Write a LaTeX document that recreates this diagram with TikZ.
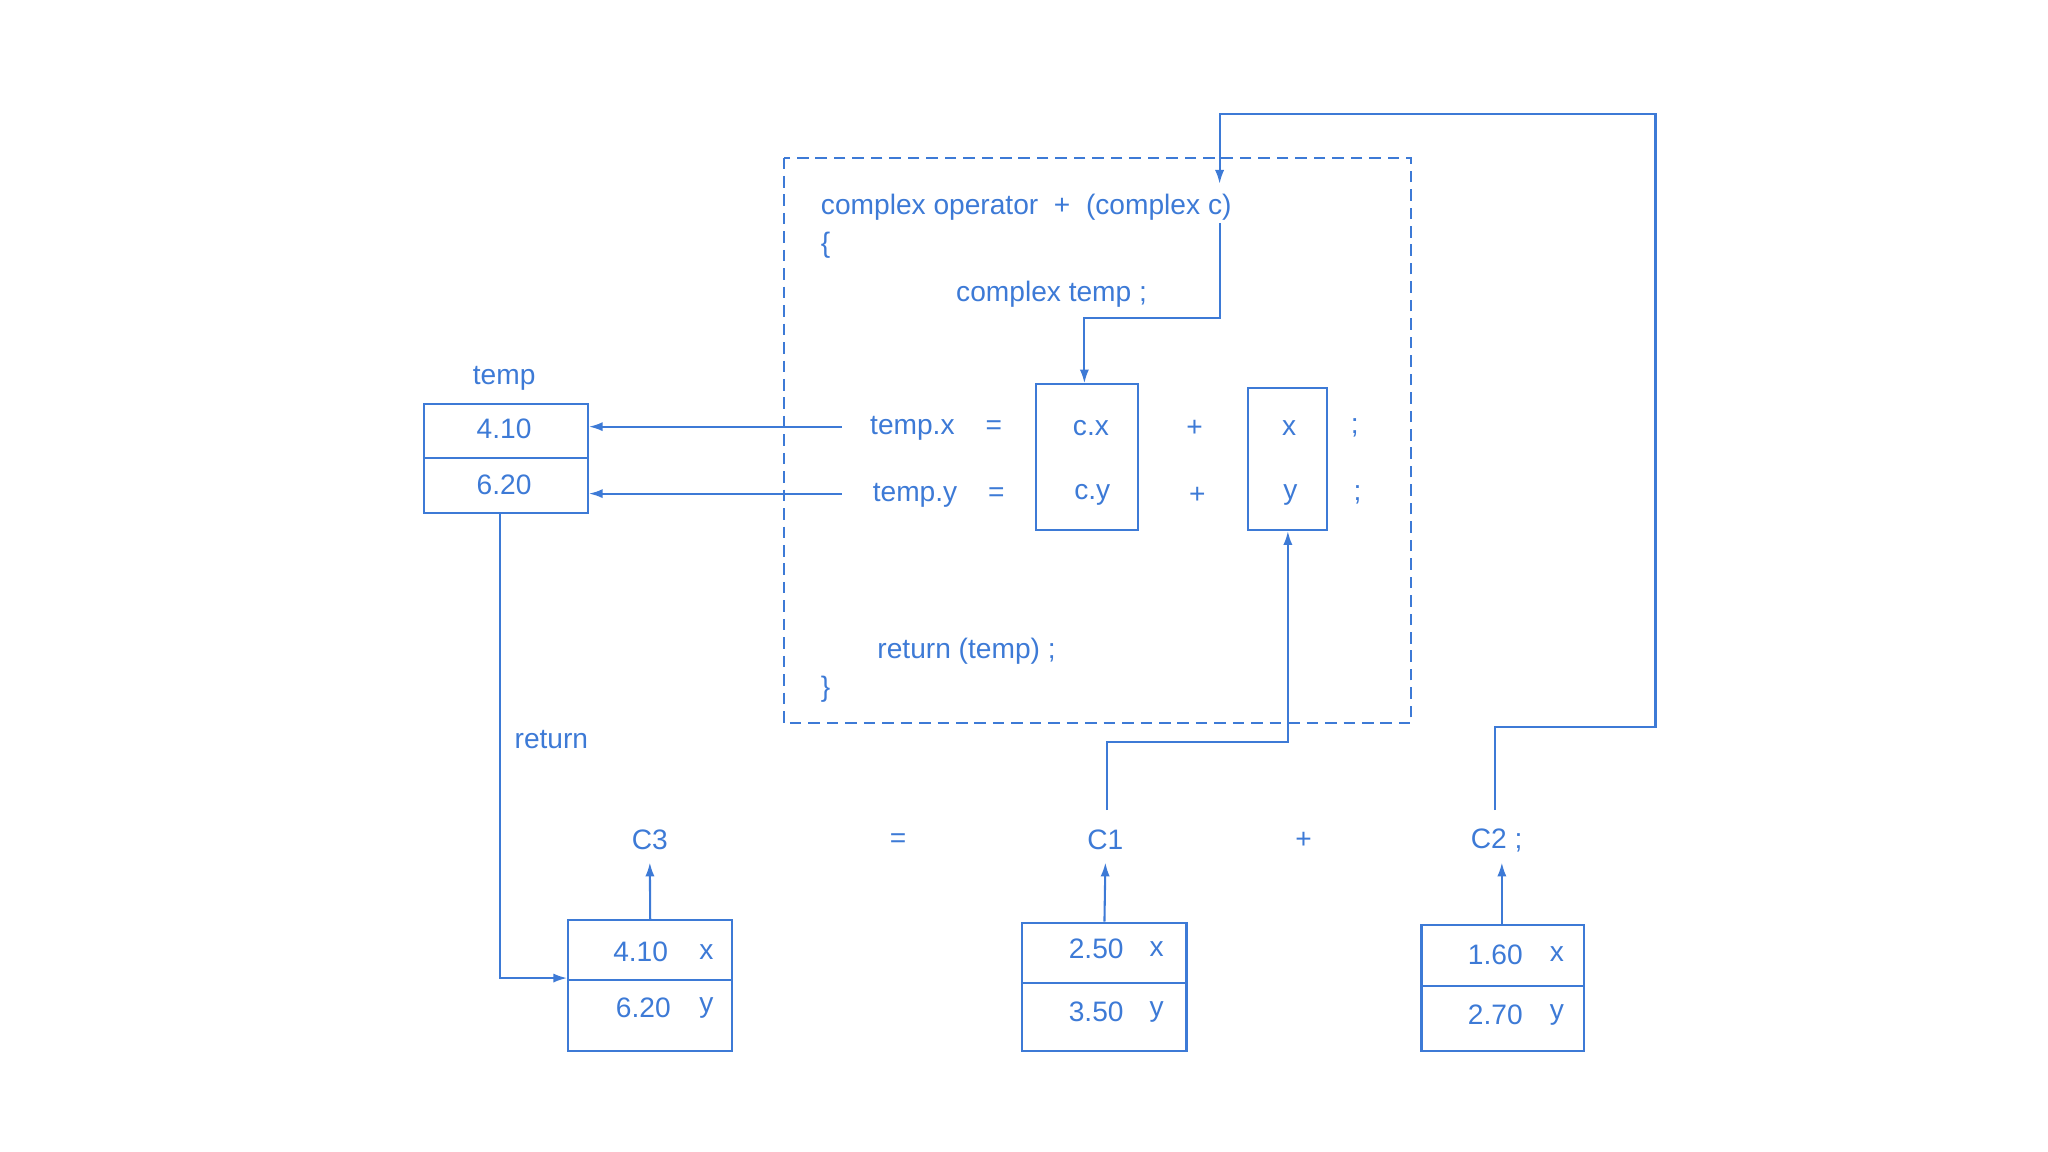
\documentclass[tikz,border=0pt]{standalone}
\usepackage{fontspec}
\setmainfont{Liberation Sans}
\usetikzlibrary{arrows.meta}
\definecolor{bl}{HTML}{3D7AD6}
\begin{document}
\begin{tikzpicture}[x=0.02cm,y=-0.02cm,
  every node/.style={text=bl,font=\fontsize{12.2}{14}\selectfont,inner sep=0pt},
  ln/.style={draw=bl,line width=0.9pt},
  ar/.style={ln,-{Latex[length=6pt,width=4pt]}},
  bx/.style={draw=bl,line width=0.9pt}]
\useasboundingbox (0,0) rectangle (1560,877.5);
% dashed function box
\draw[bl,line width=0.9pt,dash pattern=on 5pt off 3pt] (597,120) rectangle (1075,551);
\node[anchor=west] (sig) at (625,158) {complex operator\ \ +\ \ (complex c)};
\node[anchor=west] (ob) at (625,187) {\{};
\node[anchor=west] (decl) at (728,224) {complex temp ;};
\node[anchor=west] (ret) at (668,496) {return (temp) ;};
\node[anchor=west] (cb) at (625,525) {\}};
% statements
\node (tx) at (695,326) {temp.x};
\node (ty) at (697,377) {temp.y};
\node at (757,326) {=};
\node at (759,377) {=};
\node[bx,anchor=north west,minimum width=1.56cm,minimum height=2.22cm] (cbox) at (788,292) {};
\node (cx) at (831,326) {c.x};
\node (cy) at (832,377) {c.y};
\node at (910,326) {+};
\node at (912,377) {+};
\node[bx,anchor=north west,minimum width=1.2cm,minimum height=2.16cm] (xbox) at (950,295) {};
\node at (982,326) {x};
\node at (983,377) {y};
\node at (1032,326) {;};
\node at (1034,377) {;};
% temp box
\node (templ) at (384,288) {temp};
\node[bx,anchor=north west,minimum width=2.5cm,minimum height=0.82cm] (t1) at (322,307) {};
\node[bx,anchor=north west,minimum width=2.5cm,minimum height=0.84cm] (t2) at (322,348) {};
\node at (384,327) {4.10};
\node at (384,369) {6.20};
\coordinate (tx0) at (641,325);
\coordinate (ty0) at (641,376);
\draw[ar] (tx0) -- (t1.east|-tx0);
\draw[ar] (ty0) -- (t2.east|-ty0);
% bottom expression
\node (C3) at (495,640) {C3};
\node at (684,640) {=};
\node (C1) at (842,640) {C1};
\node at (993,640) {+};
\node (C2) at (1140,640) {C2 ;};
% C3 box
\node[bx,anchor=north west,minimum width=2.5cm,minimum height=0.92cm] (c3a) at (432,700) {};
\node[bx,anchor=north west,minimum width=2.5cm,minimum height=1.08cm] (c3b) at (432,746) {};
\node at (488,725) {4.10}; \node at (538,725) {x};
\node at (490,768) {6.20}; \node at (538,768) {y};
% C1 box
\node[bx,anchor=north west,minimum width=2.5cm,minimum height=0.92cm] (c1a) at (778,702) {};
\node[bx,anchor=north west,minimum width=2.5cm,minimum height=1.04cm] (c1b) at (778,748) {};
\node at (835,723) {2.50}; \node at (881,723) {x};
\node at (835,771) {3.50}; \node at (881,771) {y};
% C2 box
\node[bx,anchor=north west,minimum width=2.48cm,minimum height=0.92cm] (c2a) at (1082,704) {};
\node[bx,anchor=north west,minimum width=2.48cm,minimum height=1.0cm] (c2b) at (1082,750) {};
\node at (1139,727) {1.60}; \node at (1186,727) {x};
\node at (1139,773) {2.70}; \node at (1186,773) {y};
% up arrows
\draw[ar] (c3a.north) -- (495,657);
\draw[ar] (c1a.north) -- (842,657);
\draw[ar] (1144,704) -- (1144,657);
% return
\node (retl) at (420,563) {return};
\draw[ar] (381,390) -- (381,745) -- (c3b.west|-0,745);
% C1 -> x
\draw[ar] (843,617) -- (843,565) -- (981,565) -- (xbox.south-|981,0);
% C2 -> c
\draw[ar] (1139,617) -- (1139,554) -- (1261,554) -- (1261,87) -- (929,87) -- (929,140);
% c -> c box
\draw[ar] (929,170) -- (929,242) -- (826,242) -- (cbox.north-|826,0);
\end{tikzpicture}
\end{document}
